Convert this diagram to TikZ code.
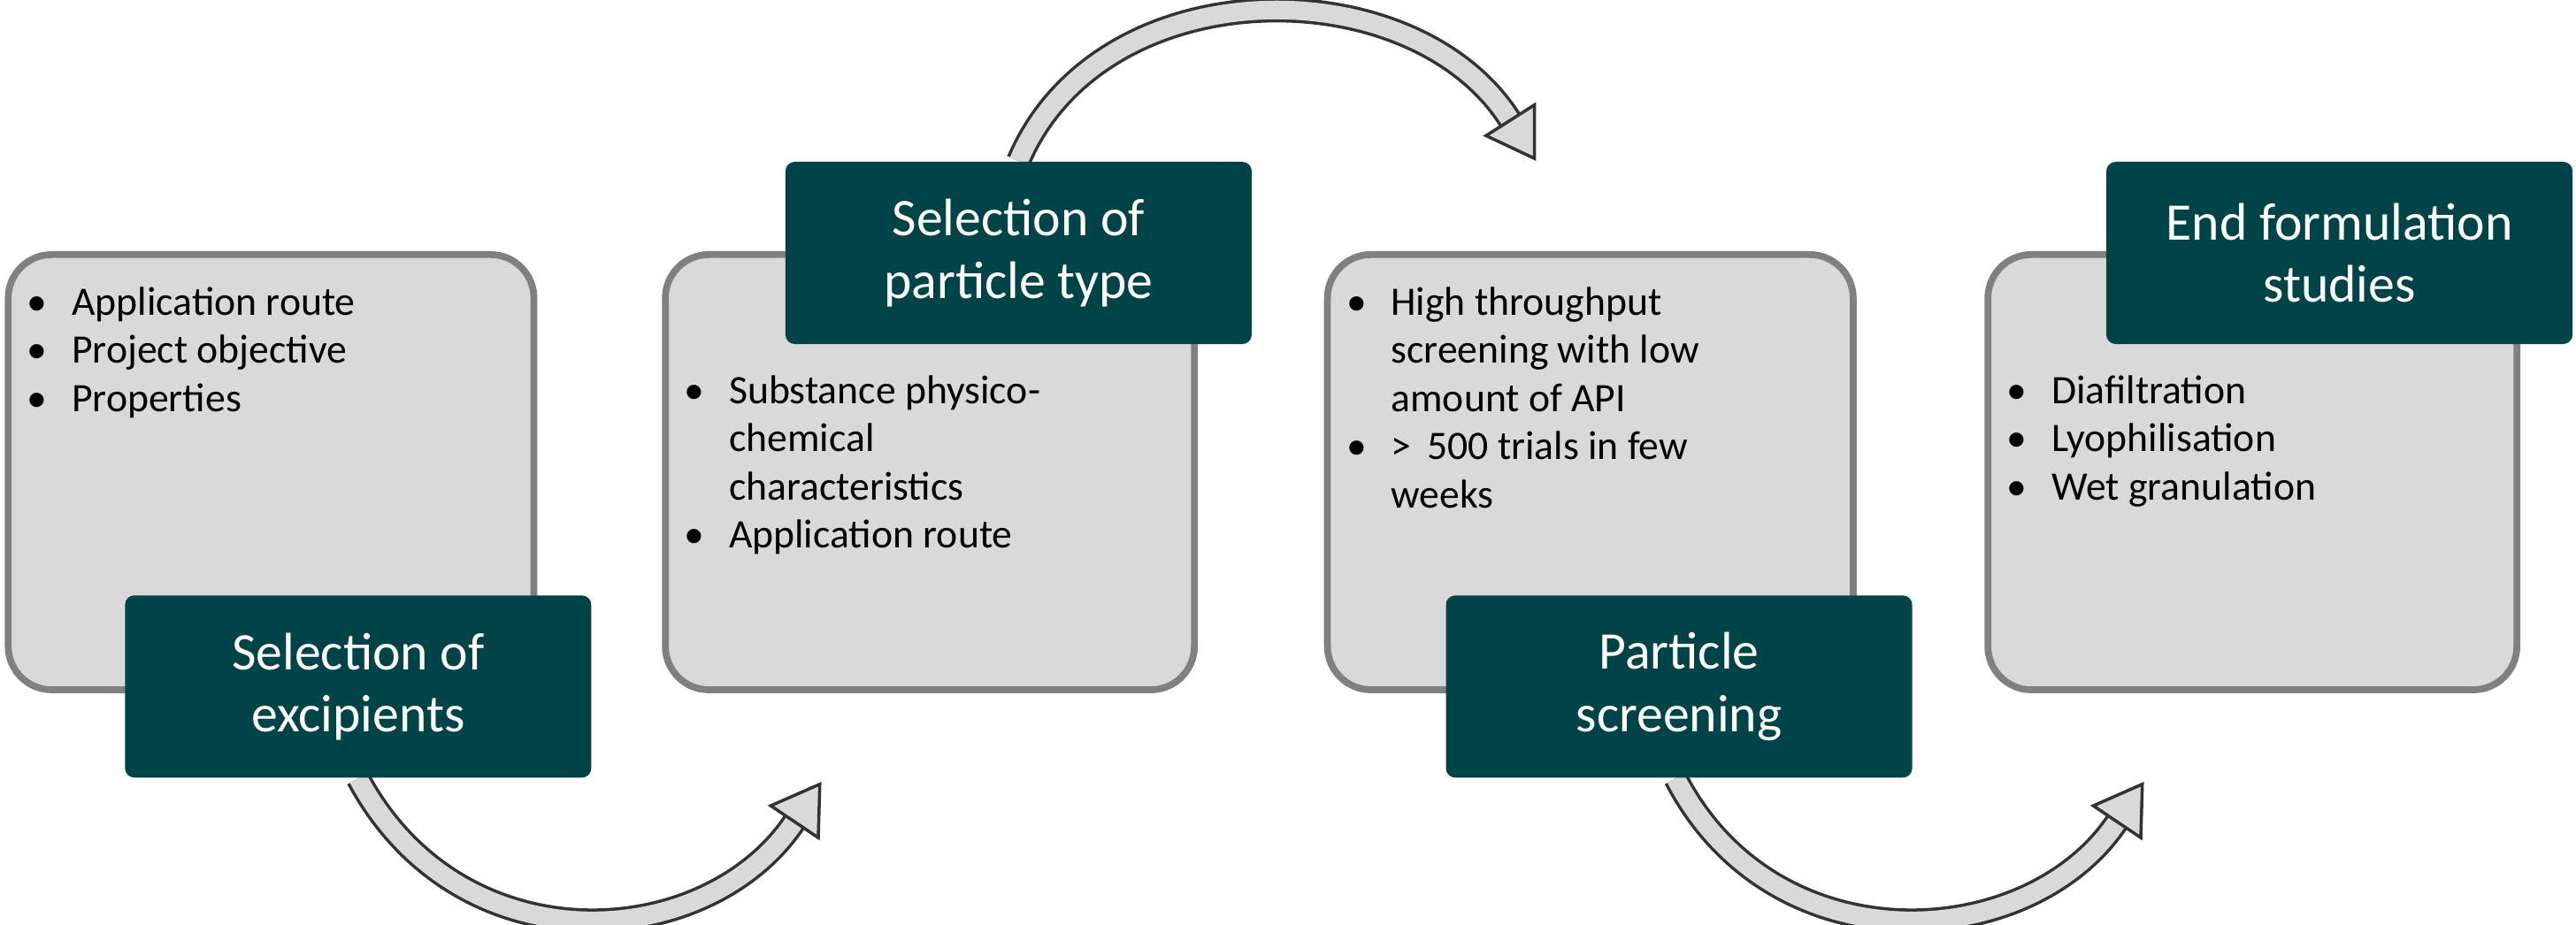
\documentclass[tikz,border=0pt]{standalone}
\usepackage{fontspec}
\setmainfont{Carlito}
\usetikzlibrary{arrows.meta}
\definecolor{tealbox}{HTML}{004448}
\definecolor{greybox}{HTML}{D9D9D9}
\definecolor{greyline}{HTML}{808080}
\newcommand\itm[1]{\makebox[1.1em][l]{\textbullet}#1\\}
\newcommand\cnt[1]{\hspace*{1.1em}#1\\}
\begin{document}
\begin{tikzpicture}[x=0.01857cm,y=-0.01857cm,
  infobox/.style={draw=greyline,line width=2.2pt,fill=greybox,rounded corners=14pt},
  headbox/.style={fill=tealbox,rounded corners=3pt,text=white,align=center,
    minimum width=5.27cm,minimum height=2.06cm,inner sep=0pt,font=\fontsize{17}{20}\selectfont},
  itemtext/.style={anchor=north west,align=left,font=\fontsize{13}{15.5}\selectfont},
  flowarrow/.style={draw=black!80,line width=1pt,double=greybox,double distance=6pt,
    -{Triangle[length=16pt,width=20pt,fill=greybox,line width=1pt]}}]
\useasboundingbox (0,0) rectangle (1568,563);
% boxes
\draw[infobox] (5,155) rectangle (325,420);
\draw[infobox] (405,155) rectangle (727,420);
\draw[infobox] (808,155) rectangle (1128,420);
\draw[infobox] (1210,155) rectangle (1532,420);
% arrows
\coordinate (a1s) at (218,474);
\coordinate (a1e) at (500,476);
\coordinate (a2s) at (620,98);
\coordinate (a2e) at (935,98);
\coordinate (a3s) at (1020,474);
\coordinate (a3e) at (1305,476);
\draw[flowarrow] (a1s) .. controls (280,590) and (430,580) .. (a1e);
\draw[flowarrow] (a2s) .. controls (670,-20) and (860,-20) .. (a2e);
\draw[flowarrow] (a3s) .. controls (1080,590) and (1235,580) .. (a3e);
% headings
\node[headbox] (h1) at (218,418) {Selection of\\excipients};
\node[headbox] (h2) at (620,154) {Selection of\\particle type};
\node[headbox] (h3) at (1022,418) {Particle\\screening};
\node[headbox] (h4) at (1424,154) {End formulation\\studies};
% bullet texts
\node[itemtext] (t1) at (10,168) {\itm{Application route}\itm{Project objective}\itm{Properties}};
\node[itemtext] (t2) at (410,222) {\itm{Substance physico-}\cnt{chemical}\cnt{characteristics}\itm{Application route}};
\node[itemtext] (t3) at (813,168) {\itm{High throughput}\cnt{screening with low}\cnt{amount of API}\itm{>\, 500 trials in few}\cnt{weeks}};
\node[itemtext] (t4) at (1215,222) {\itm{Diafiltration}\itm{Lyophilisation}\itm{Wet granulation}};
\end{tikzpicture}
\end{document}
